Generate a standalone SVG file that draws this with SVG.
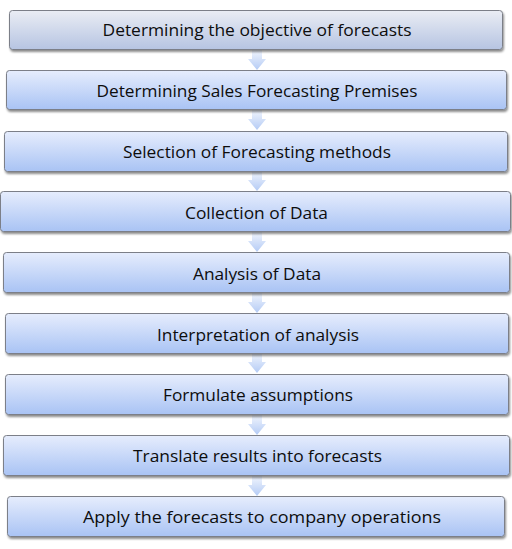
<svg xmlns="http://www.w3.org/2000/svg" width="512" height="549" viewBox="0 0 512 549">
<style>
.box{fill:url(#gb);stroke:#7b7f88;stroke-width:1;filter:url(#sh)}
.box1{fill:url(#gg);stroke:#7b7f88;stroke-width:1;filter:url(#sh)}
.lbl{font-family:"Open Sans","Liberation Sans",sans-serif;font-size:16.5px;fill:#0d0d0d;text-anchor:middle}
.arr{fill:url(#ga)}
</style>
<defs>
<linearGradient id="gb" x1="0" y1="0" x2="0" y2="1">
<stop offset="0" stop-color="#e6edfd"/>
<stop offset="1" stop-color="#a9c3f4"/>
</linearGradient>
<linearGradient id="gg" x1="0" y1="0" x2="0" y2="1">
<stop offset="0" stop-color="#eaedf4"/>
<stop offset="1" stop-color="#b6c4e2"/>
</linearGradient>
<linearGradient id="ga" x1="0" y1="0" x2="0" y2="1">
<stop offset="0" stop-color="#f1f5fd"/>
<stop offset="1" stop-color="#b4cbf5"/>
</linearGradient>
<filter id="sh" x="-5%" y="-20%" width="110%" height="150%">
<feDropShadow dx="1" dy="2" stdDeviation="1.3" flood-color="#000" flood-opacity="0.45"/>
</filter>
<path id="arrow" d="M-5,0 H5 V9 H9 L0,20 L-9,9 H-5 Z"/>
</defs>
<rect width="512" height="549" fill="#fff"/>
<g id="connectors">
<use href="#arrow" class="arr" x="257" y="50"/>
<use href="#arrow" class="arr" x="257" y="110"/>
<use href="#arrow" class="arr" x="257" y="171"/>
<use href="#arrow" class="arr" x="257" y="232"/>
<use href="#arrow" class="arr" x="257" y="293"/>
<use href="#arrow" class="arr" x="257" y="353"/>
<use href="#arrow" class="arr" x="257" y="415"/>
<use href="#arrow" class="arr" x="257" y="476"/>
</g>
<g id="n1"><rect class="box1" x="9.5" y="10.5" width="493" height="39" rx="3"/><text class="lbl" x="257" y="36" textLength="309" lengthAdjust="spacingAndGlyphs">Determining the objective of forecasts</text></g>
<g id="n2"><rect class="box" x="6.5" y="70.5" width="500" height="39" rx="3"/><text class="lbl" x="257" y="96.5" textLength="321" lengthAdjust="spacingAndGlyphs">Determining Sales Forecasting Premises</text></g>
<g id="n3"><rect class="box" x="4.5" y="131.5" width="503" height="40" rx="3"/><text class="lbl" x="257" y="158" textLength="268" lengthAdjust="spacingAndGlyphs">Selection of Forecasting methods</text></g>
<g id="n4"><rect class="box" x="0.5" y="191.5" width="510" height="40" rx="3"/><text class="lbl" x="256.5" y="218.5" textLength="143" lengthAdjust="spacingAndGlyphs">Collection of Data</text></g>
<g id="n5"><rect class="box" x="3.5" y="252.5" width="506" height="40" rx="3"/><text class="lbl" x="257" y="279.5" textLength="128" lengthAdjust="spacingAndGlyphs">Analysis of Data</text></g>
<g id="n6"><rect class="box" x="5.5" y="313.5" width="503" height="40" rx="3"/><text class="lbl" x="258" y="340.5" textLength="202" lengthAdjust="spacingAndGlyphs">Interpretation of analysis</text></g>
<g id="n7"><rect class="box" x="5.5" y="374.5" width="503" height="40" rx="3"/><text class="lbl" x="258" y="401" textLength="190" lengthAdjust="spacingAndGlyphs">Formulate assumptions</text></g>
<g id="n8"><rect class="box" x="3.5" y="435.5" width="506" height="40" rx="3"/><text class="lbl" x="257.5" y="462" textLength="249" lengthAdjust="spacingAndGlyphs">Translate results into forecasts</text></g>
<g id="n9"><rect class="box" x="7.5" y="496.5" width="497" height="40" rx="3"/><text class="lbl" x="262" y="523" textLength="358" lengthAdjust="spacingAndGlyphs">Apply the forecasts to company operations</text></g>
</svg>
